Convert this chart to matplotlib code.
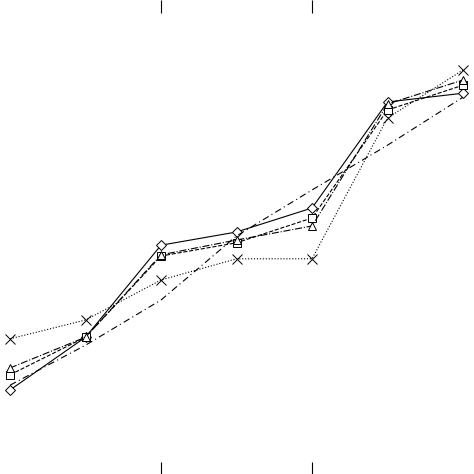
import matplotlib
matplotlib.use("Agg")
import matplotlib.pyplot as plt

steps = [1, 2, 3, 4, 5, 6, 7]

solid_diamond = [21.0, 34.2, 57.2, 60.5, 66.5, 93.0, 95.2]
dotted_cross = [33.8, 38.5, 48.5, 53.8, 53.8, 89.0, 101.0]
dashed_square = [24.8, 34.2, 54.5, 57.8, 64.0, 91.0, 97.2]
dashdot_triangle = [26.5, 34.2, 54.8, 58.5, 62.0, 92.5, 98.5]
dashdot_plain = [22.2, 32.2, 43.5, 59.5, 71.0, 82.2, 94.2]

fig = plt.figure(figsize=(4.74, 4.74), dpi=100)
ax = fig.add_axes([0, 0, 1, 1])

ax.plot(steps, solid_diamond, ls="-", color="k", lw=0.8, marker="D", ms=5, mfc="white", mec="k", mew=0.7)
ax.plot(steps, dotted_cross, ls=":", color="k", lw=0.8, marker="x", ms=7, mew=0.7)
ax.plot(steps, dashed_square, ls="--", color="k", lw=0.8, marker="s", ms=6, mfc="white", mec="k", mew=0.7)
ax.plot(steps, dashdot_triangle, ls="-.", color="k", lw=0.8, marker="^", ms=6, mfc="white", mec="k", mew=0.7)
ax.plot(steps, dashdot_plain, ls=(0, (6, 3, 1, 3)), color="k", lw=0.8)

ax.set_xlim(1 - 10 / 75.5, 1 + 464 / 75.5)
ax.set_ylim(0, 118.5)
ax.set_xticks([3, 5])
ax.set_xticklabels([])
ax.set_yticks([])
ax.tick_params(axis="x", direction="in", length=9, top=True, bottom=True)
for s in ax.spines.values():
    s.set_visible(False)

fig.savefig("out.png", dpi=100)
